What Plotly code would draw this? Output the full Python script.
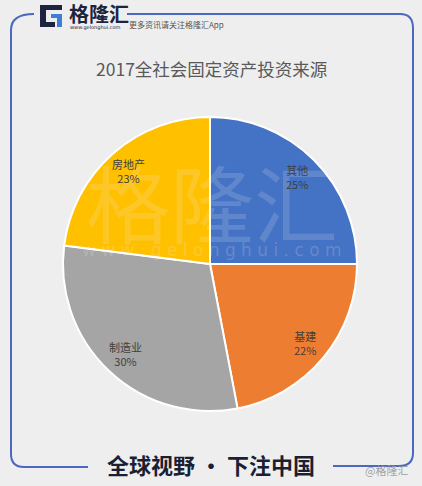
import math
import plotly.graph_objects as go

# ---- data ----
categories = ["其他", "基建", "制造业", "房地产"]
values = [25, 22, 30, 23]
colors = ["#4472C4", "#ED7D31", "#A5A5A5", "#FFC000"]
title_text = "2017全社会固定资产投资来源"

W, H = 422, 486
FONT = "Noto Sans CJK SC"

# pie geometry (pixels)
cx, cy, R = 210, 264, 147
dom_x = [(cx - R) / W, (cx + R) / W]
dom_y = [(H - cy - R) / H, (H - cy + R) / H]

fig = go.Figure()
fig.add_trace(go.Pie(
    labels=categories, values=values, sort=False, direction="clockwise",
    rotation=0, marker=dict(colors=colors, line=dict(color="white", width=2)),
    textinfo="none", hoverinfo="label+percent", showlegend=False,
    domain=dict(x=dom_x, y=dom_y),
))


def ann(px, py, text, size, color, family=FONT, xanchor="center"):
    return dict(x=px / W, y=1 - py / H, xref="paper", yref="paper",
                xanchor=xanchor, yanchor="middle", text=text, showarrow=False,
                font=dict(family=family, size=size, color=color), align="center")


annotations = []
# watermark
annotations.append(ann(212, 200, "格隆汇", 84, "rgba(240,240,240,0.16)"))
annotations.append(ann(212, 250, "w w w . g e l o n g h u i . c o m", 17,
                       "rgba(240,240,240,0.2)", family="DejaVu Sans"))

# slice labels along each slice's mid-angle
total = sum(values)
cum = 0
for cat, v in zip(categories, values):
    mid = (cum + v / 2) / total * 2 * math.pi
    cum += v
    r = 0.84 * R
    px = cx + r * math.sin(mid)
    py = cy - r * math.cos(mid)
    annotations.append(ann(px, py, f"{cat}<br>{round(v / total * 100)}%", 11, "#404040"))

# title
annotations.append(ann(211, 68, title_text, 17.5, "#595959"))
# header
annotations.append(ann(67, 14, "<b>格隆汇</b>", 20, "#1c2440", xanchor="left"))
annotations.append(ann(68, 27, "www.gelonghui.com", 5, "#1c2440",
                       family="DejaVu Sans", xanchor="left"))
annotations.append(ann(127, 24, "更多资讯请关注格隆汇App", 8, "#555555", xanchor="left"))
# footer
annotations.append(ann(211, 464, "<b>全球视野 · 下注中国</b>", 22, "#1a1f33"))
annotations.append(ann(386, 470, "@格隆汇", 11, "rgba(150,150,150,0.9)"))

line_style = dict(color="#4a67c2", width=2)


def P(x, y):
    return f"{x / W},{1 - y / H}"


shapes = [
    # frame
    dict(type="path", xref="paper", yref="paper",
         path=(f"M {P(88,467)} L {P(24,467)} Q {P(11,467)} {P(11,454)} "
               f"L {P(11,30)} Q {P(11,14)} {P(34,14)}"),
         line=line_style),
    dict(type="path", xref="paper", yref="paper",
         path=(f"M {P(127,14)} L {P(400,14)} Q {P(413,14)} {P(413,28)} "
               f"L {P(413,453)} Q {P(413,466)} {P(399,466)} L {P(333,466)}"),
         line=line_style),
    # logo: navy G block with blue corner
    dict(type="path", xref="paper", yref="paper",
         path=(f"M {P(40,5)} L {P(62,5)} L {P(62,10)} L {P(46,10)} L {P(46,22)} "
               f"L {P(55,22)} L {P(55,27)} L {P(40,27)} Z"),
         fillcolor="#1c2440", line=dict(width=0)),
    dict(type="path", xref="paper", yref="paper",
         path=f"M {P(51,14)} L {P(62,14)} L {P(62,27)} L {P(57,27)} L {P(57,18)} L {P(51,18)} Z",
         fillcolor="#3d7fd6", line=dict(width=0)),
]

fig.update_layout(
    width=W, height=H, margin=dict(l=0, r=0, t=0, b=0),
    paper_bgcolor="#eeeeee", plot_bgcolor="#eeeeee",
    annotations=annotations, shapes=shapes,
)

fig.write_html("out.html", config={"displayModeBar": False},
               post_script="document.body.style.margin='0';document.body.style.background='#eeeeee';")
